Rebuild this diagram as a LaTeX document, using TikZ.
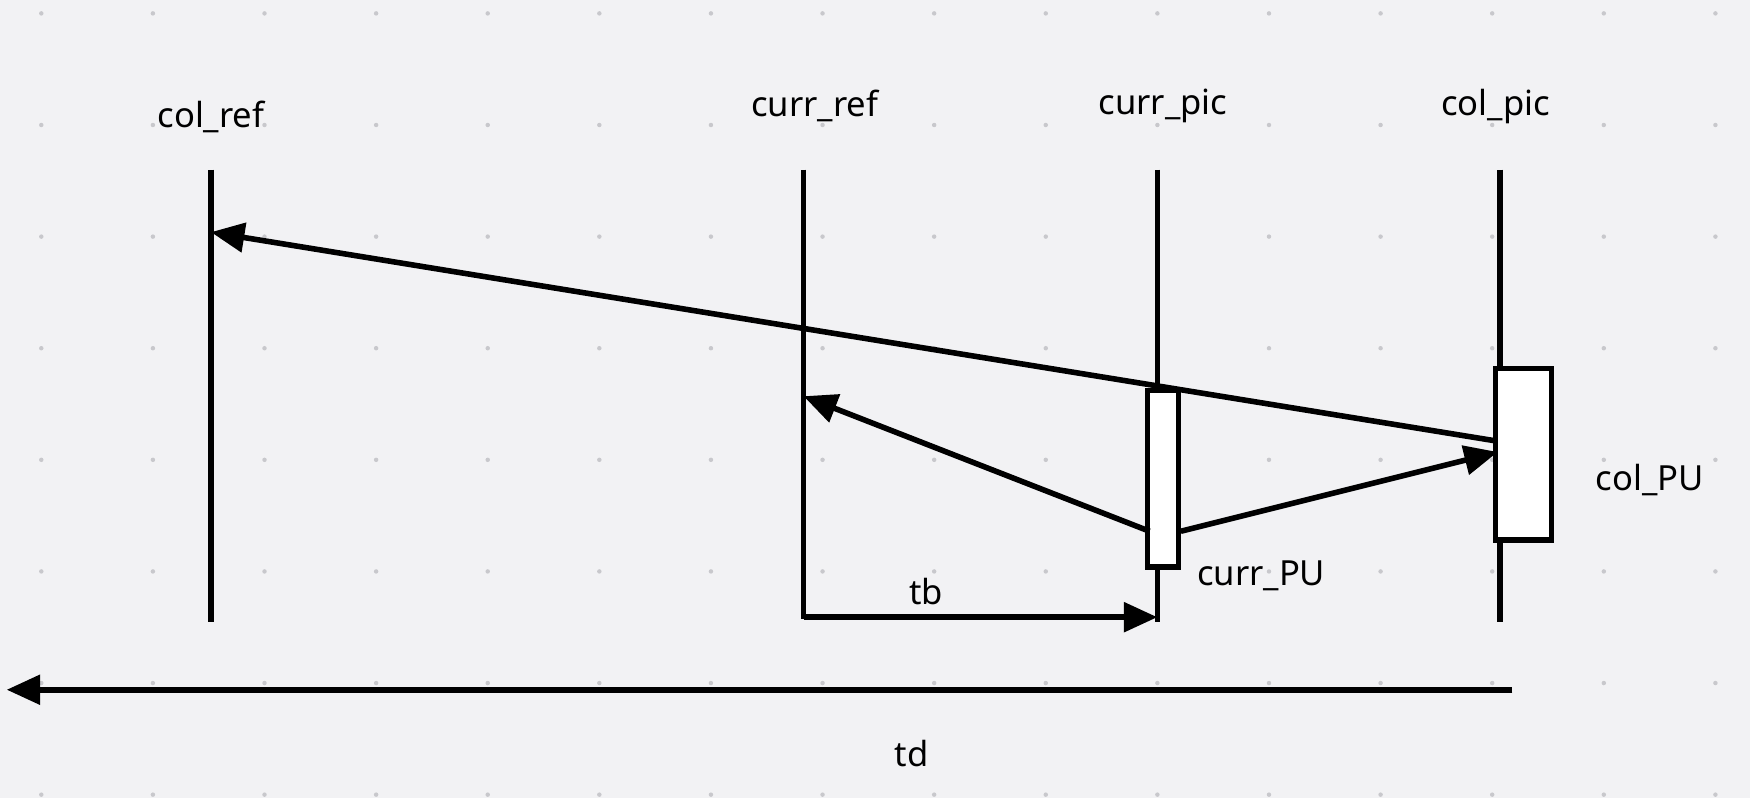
\documentclass[tikz,border=0pt]{standalone}
\usepackage{fontspec}
\setmainfont{Noto Sans}
\usetikzlibrary{arrows.meta}
\definecolor{bg}{HTML}{F2F2F4}
\definecolor{dotc}{HTML}{C8C8CC}
\begin{document}
\begin{tikzpicture}[x=1pt,y=-1pt,
  ln/.style={line width=5pt},
  arr/.style={ln,-{Triangle[length=30pt,width=26pt]}},
  lbl/.style={font=\fontsize{31}{34}\selectfont,inner sep=0pt},
  pu/.style={ln,fill=white}]
\useasboundingbox (0,0) rectangle (1568,715);
\fill[bg] (0,0) rectangle (1568,715);
\foreach \x in {37,137,...,1537} \foreach \y in {12,112,...,712} \fill[dotc] (\x,\y) circle (2);
% lifelines
\coordinate (a1) at (189,152); \coordinate (a2) at (189,557);
\coordinate (b1) at (720,152); \coordinate (b2) at (720,555);
\coordinate (c1) at (1037,152); \coordinate (c2) at (1037,557);
\coordinate (d1) at (1344,152); \coordinate (d2) at (1344,557);
\draw[ln] (a1)--(a2); \draw[ln] (b1)--(b2); \draw[ln] (c1)--(c2); \draw[ln] (d1)--(d2);
\node[lbl] (lcr) at (189,105) {col\_ref};
\node[lbl] (lcu) at (730,95) {curr\_ref};
\node[lbl] (lcp) at (1042,95) {curr\_pic};
\node[lbl] (lcl) at (1340,95) {col\_pic};
% PUs
\draw[pu] (1028,350) rectangle (1056,508);
\draw[pu] (1340,330) rectangle (1390,484);
\node[lbl] (lpu1) at (1130,516) {curr\_PU};
\node[lbl] (lpu2) at (1478,430) {col\_PU};
% arrows
\coordinate (s1) at (1340,395); \coordinate (e1) at (189,208);
\draw[arr] (s1)--(e1);
\coordinate (s2) at (1030,476); \coordinate (e2) at (720,355);
\draw[arr] (s2)--(e2);
\coordinate (s3) at (1058,476); \coordinate (e3) at (1342,405);
\draw[arr] (s3)--(e3);
\coordinate (t1) at (720,553); \coordinate (t2) at (1037,553);
\draw[arr] (t1)--(t2);
\node[lbl] (ltb) at (830,530) {tb};
\coordinate (u1) at (1355,618); \coordinate (u2) at (6,618);
\draw[arr] (u1)--(u2);
\node[lbl] (ltd) at (817,675) {td};
\end{tikzpicture}
\end{document}
